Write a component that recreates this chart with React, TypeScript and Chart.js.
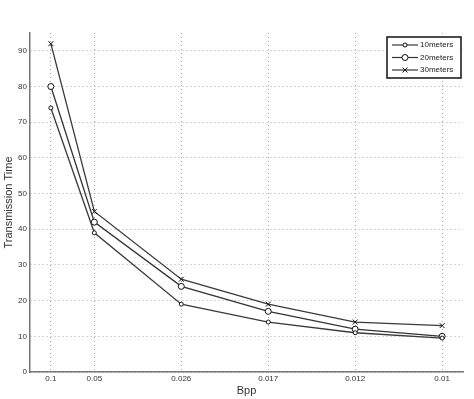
import React, { useEffect, useRef } from 'react';
import { Chart, registerables } from 'chart.js';

Chart.register(...registerables);

const bppLabels = ['0.1', '0.05', '0.026', '0.017', '0.012', '0.01'];
const bppPositions = [1, 1.5, 2.5, 3.5, 4.5, 5.5];
const seriesNames = ['10meters', '20meters', '30meters'];
const time10m = [74, 39, 19, 14, 11, 9.5];
const time20m = [80, 42, 24, 17, 12, 10];
const time30m = [92, 45, 26, 19, 14, 13];
const yTickValues = [0, 10, 20, 30, 40, 50, 60, 70, 80, 90];

const FONT = "'Liberation Sans', Arial, sans-serif";

const boxLegend = {
  id: 'boxLegend',
  afterDraw(chart: any) {
    const { ctx, chartArea } = chart;
    const w = 74;
    const h = 41;
    const x = chartArea.right - w - 2;
    const y = chartArea.top + 4;
    ctx.save();
    ctx.fillStyle = '#fff';
    ctx.fillRect(x, y, w, h);
    ctx.strokeStyle = '#111';
    ctx.lineWidth = 1.5;
    ctx.strokeRect(x, y, w, h);
    chart.data.datasets.forEach((ds: any, i: number) => {
      const ry = y + 8 + i * 12.5;
      ctx.strokeStyle = ds.borderColor;
      ctx.lineWidth = 1.2;
      ctx.beginPath();
      ctx.moveTo(x + 5, ry);
      ctx.lineTo(x + 31, ry);
      ctx.stroke();
      ctx.strokeStyle = '#111';
      ctx.fillStyle = ds.pointBackgroundColor;
      ctx.lineWidth = 1;
      const mx = x + 18;
      if (ds.pointStyle === 'crossRot') {
        const r = ds.pointRadius;
        ctx.beginPath();
        ctx.moveTo(mx - r * 0.7, ry - r * 0.7);
        ctx.lineTo(mx + r * 0.7, ry + r * 0.7);
        ctx.moveTo(mx + r * 0.7, ry - r * 0.7);
        ctx.lineTo(mx - r * 0.7, ry + r * 0.7);
        ctx.stroke();
      } else {
        ctx.beginPath();
        ctx.arc(mx, ry, ds.pointRadius, 0, Math.PI * 2);
        ctx.fill();
        ctx.stroke();
      }
      ctx.fillStyle = '#222';
      ctx.font = `8px ${FONT}`;
      ctx.textBaseline = 'middle';
      ctx.textAlign = 'left';
      ctx.fillText(ds.label, x + 33, ry);
    });
    ctx.restore();
  },
};

export default function App() {
  const ref = useRef<HTMLCanvasElement>(null);
  useEffect(() => {
    if (!ref.current) return;
    const mk = (arr: number[]) => arr.map((v, i) => ({ x: bppPositions[i], y: v }));
    const chart = new Chart(ref.current, {
      type: 'line',
      data: {
        datasets: [
          {
            label: seriesNames[0],
            data: mk(time10m),
            borderColor: '#3a3a3a',
            borderWidth: 1.3,
            pointStyle: 'circle',
            pointRadius: 2,
            pointBorderColor: '#111',
            pointBackgroundColor: '#fff',
            pointBorderWidth: 1,
            tension: 0,
          },
          {
            label: seriesNames[1],
            data: mk(time20m),
            borderColor: '#333',
            borderWidth: 1.3,
            pointStyle: 'circle',
            pointRadius: 3,
            pointBorderColor: '#111',
            pointBackgroundColor: '#fff',
            pointBorderWidth: 1,
            tension: 0,
          },
          {
            label: seriesNames[2],
            data: mk(time30m),
            borderColor: '#3a3a3a',
            borderWidth: 1.3,
            pointStyle: 'crossRot',
            pointRadius: 3.5,
            pointBorderColor: '#111',
            pointBackgroundColor: '#fff',
            pointBorderWidth: 1,
            tension: 0,
          },
        ],
      } as any,
      options: {
        animation: false,
        responsive: false,
        maintainAspectRatio: false,
        layout: { padding: { top: 33, right: 11, left: 0, bottom: 0 } },
        plugins: { legend: { display: false }, tooltip: { enabled: false } },
        scales: {
          x: {
            type: 'linear',
            min: 0.76,
            max: 5.74,
            afterBuildTicks: (s: any) => {
              s.ticks = bppPositions.map((v) => ({ value: v }));
            },
            afterFit: (s: any) => {
              s.height = 27;
            },
            ticks: {
              autoSkip: false,
              maxRotation: 0,
              padding: 2,
              color: '#333',
              font: { family: FONT, size: 8 },
              callback: (v: any) => {
                const i = bppPositions.indexOf(Number(v));
                return i >= 0 ? bppLabels[i] : '';
              },
            },
            grid: { color: '#aaa', lineWidth: 1, drawTicks: false },
            border: { display: true, color: '#777', width: 1.5, dash: [1, 3] },
            title: {
              display: true,
              text: 'Bpp',
              color: '#333',
              font: { family: FONT, size: 11 },
              padding: { top: 0, bottom: 1 },
            },
          },
          y: {
            type: 'linear',
            min: 0,
            max: 95,
            afterBuildTicks: (s: any) => {
              s.ticks = yTickValues.map((v) => ({ value: v }));
            },
            afterFit: (s: any) => {
              s.width = 30;
            },
            ticks: {
              padding: 3,
              color: '#333',
              font: { family: FONT, size: 8 },
            },
            grid: { color: '#aaa', lineWidth: 1, drawTicks: false },
            border: { display: true, color: '#777', width: 1.5, dash: [1, 3] },
            title: {
              display: true,
              text: 'Transmission Time',
              color: '#333',
              font: { family: FONT, size: 11 },
              padding: { top: 2, bottom: 0 },
            },
          },
        },
      } as any,
      plugins: [boxLegend],
    });
    return () => chart.destroy();
  }, []);
  return (
    <div style={{ position: 'fixed', left: 0, top: 0, width: 474, height: 399, background: '#fff' }}>
      <canvas ref={ref} width={474} height={399} style={{ width: 474, height: 399 }} />
    </div>
  );
}
